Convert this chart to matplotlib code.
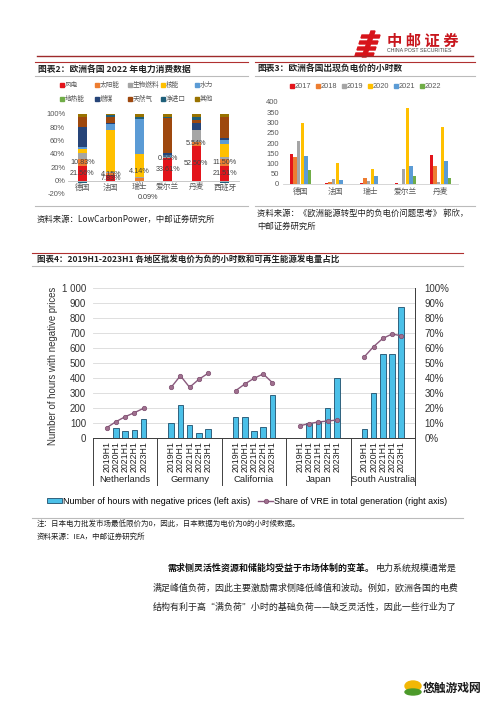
import numpy as np
import matplotlib
matplotlib.use('Agg')
import matplotlib.pyplot as plt
from matplotlib.patches import Rectangle, Polygon, Ellipse
from matplotlib.lines import Line2D

plt.rcParams['font.family'] = ['Liberation Sans', 'Noto Sans CJK SC']

W, H = 500, 707

# chart 2: 2022 electricity mix (%)
countries2 = ['德国', '法国', '瑞士', '爱尔兰', '丹麦', '西班牙']
sources2 = ['风电', '太阳能', '生物燃料', '核能', '水力', '地热能', '燃煤', '天然气', '净进口', '其他']
wind = [21.56, 7.83, 0.09, 33.61, 52.50, 21.51]
solar = [10.83, 4.15, 4.14, 0.55, 5.54, 11.50]
bio = [8.5, 1.5, 1.5, 2.0, 18.0, 2.0]
nuclear = [6.0, 62.0, 34.0, 0.0, 0.0, 20.0]
hydro = [3.5, 10.0, 53.0, 2.0, 0.1, 6.5]
geo = [0.0, 0.0, 0.0, 0.0, 0.0, 0.0]
coal = [30.0, 0.8, 0.0, 4.0, 11.0, 3.0]
gas = [15.5, 9.5, 0.5, 52.0, 4.0, 31.0]
netimp = [-3.0, 2.0, 2.0, 2.0, 5.0, -4.0]
other = [4.1, 2.2, 4.8, 3.84, 3.86, 4.49]

# chart 3: hours with negative prices
countries3 = ['德国', '法国', '瑞士', '爱尔兰', '丹麦']
years3 = ['2017', '2018', '2019', '2020', '2021', '2022']
h2017 = [146, 5, 5, 5, 143]
h2018 = [134, 9, 28, 0, 90]
h2019 = [211, 26, 14, 75, 12]
h2020 = [298, 102, 75, 372, 280]
h2021 = [139, 19, 38, 88, 112]
h2022 = [70, 0, 0, 40, 30]

# chart 4: IEA negative price hours and VRE share
regions4 = ['Netherlands', 'Germany', 'California', 'Japan', 'South Australia']
periods4 = ['2019H1', '2020H1', '2021H1', '2022H1', '2023H1']
hours_nl = [3, 67, 49, 55, 127]
hours_de = [98, 220, 87, 33, 62]
hours_ca = [142, 138, 49, 75, 289]
hours_jp = [0, 102, 109, 198, 397]
hours_sa = [58, 302, 560, 560, 872]
vre_nl = [6.9, 10.9, 14.2, 16.9, 19.8]
vre_de = [33.8, 41.5, 33.8, 39.1, 43.1]
vre_ca = [31.5, 36.0, 39.8, 42.7, 36.9]
vre_jp = [8.2, 9.6, 10.7, 11.3, 12.0]
vre_sa = [54.2, 60.9, 66.4, 69.3, 68.2]

COL2 = ['#E3141B', '#ED7D31', '#A5A5A5', '#FFC000', '#5B9BD5',
        '#70AD47', '#264478', '#9E480E', '#1F5F7A', '#997300']
COL3 = ['#E3141B', '#ED7D31', '#A5A5A5', '#FFC000', '#5B9BD5', '#70AD47']
GRAY = '#595959'
CJK = ['Noto Sans CJK SC']


def rect(l, t, r, b):
    return [l / W, 1 - b / H, (r - l) / W, (b - t) / H]


def fx(x):
    return x / W


def fy(y):
    return 1 - y / H


def hline(fig, y, x0, x1, color, lw):
    fig.add_artist(Line2D([fx(x0), fx(x1)], [fy(y), fy(y)], color=color, lw=lw,
                          transform=fig.transFigure))


def ptext(fig, x, y, s, **kw):
    return fig.text(fx(x), fy(y), s, **kw)


fig = plt.figure(figsize=(W / 100, H / 100), dpi=100)
fig.patch.set_facecolor('white')

# HEADER
for i, yy in enumerate([35, 41, 47, 53]):
    x0 = 362 - i * 2
    fig.add_artist(Polygon([(fx(x0), fy(yy)), (fx(x0 + 18), fy(yy)), (fx(x0 + 17), fy(yy + 3)),
                            (fx(x0 - 1), fy(yy + 3))], closed=True, color='#D7141A',
                           transform=fig.transFigure))
fig.add_artist(Polygon([(fx(371), fy(31)), (fx(375), fy(31)), (fx(366), fy(57)), (fx(362), fy(57))],
                       closed=True, color='#D7141A', transform=fig.transFigure))
ptext(fig, 387, 41, '中 邮 证 券', fontsize=11, fontweight='bold', color='#C8161D',
      va='center', ha='left', family=CJK)
ptext(fig, 387, 51, 'CHINA POST SECURITIES', fontsize=3.8, color='#444444', va='center', ha='left')
hline(fig, 56, 37, 473, '#9E2A2B', 1.0)

# SECTION LINES AND TITLES
hline(fig, 62, 35, 248, '#B03030', 0.8)
hline(fig, 62, 255, 475, '#B03030', 0.8)
hline(fig, 76, 35, 248, '#BBBBBB', 0.8)
hline(fig, 76, 255, 475, '#BBBBBB', 0.8)
hline(fig, 206, 35, 248, '#BBBBBB', 0.8)
hline(fig, 206, 255, 475, '#BBBBBB', 0.8)
ptext(fig, 38, 69, '图表2：欧洲各国 2022 年电力消费数据', fontsize=6.3, fontweight='bold',
      color='#222222', va='center', family=CJK)
ptext(fig, 257, 69, '图表3：欧洲各国出现负电价的小时数', fontsize=6.3, fontweight='bold',
      color='#222222', va='center', family=CJK)
ptext(fig, 37, 219, '资料来源：LowCarbonPower，中邮证券研究所', fontsize=6, color='#222222',
      va='center', family=CJK)
ptext(fig, 257, 213, '资料来源：《欧洲能源转型中的负电价问题思考》 郭欣，', fontsize=6,
      color='#222222', va='center', family=CJK)
ptext(fig, 257, 226, '中邮证券研究所', fontsize=6, color='#222222', va='center', family=CJK)

# CHART 2
ax2 = fig.add_axes(rect(68, 114, 239, 194))
for s in ['top', 'right', 'left']:
    ax2.spines[s].set_visible(False)
ax2.spines['bottom'].set_position(('data', 0))
ax2.spines['bottom'].set_color('#BFBFBF')
ax2.spines['bottom'].set_linewidth(0.6)
series2 = [wind, solar, bio, nuclear, hydro, geo, coal, gas, netimp, other]
x2 = np.arange(len(countries2))
pos_base = np.zeros(len(countries2))
neg_base = np.zeros(len(countries2))
for vals, col in zip(series2, COL2):
    v = np.array(vals, dtype=float)
    base = np.where(v >= 0, pos_base, neg_base)
    ax2.bar(x2, v, 0.33, bottom=base, color=col, linewidth=0)
    pos_base += np.where(v >= 0, v, 0)
    neg_base += np.where(v < 0, v, 0)
ax2.set_xlim(-0.5, len(countries2) - 0.5)
ax2.set_ylim(-20, 100)
ax2.set_yticks(np.arange(-20, 101, 20))
ax2.set_yticklabels(['%d%%' % t for t in range(-20, 101, 20)], fontsize=5.5, color=GRAY)
ax2.set_xticks(x2)
ax2.set_xticklabels(countries2, fontsize=5.6, color=GRAY, family=CJK)
ax2.tick_params(length=0, pad=2)
ax2.patch.set_alpha(0)
solar_nudge = [0, 0, 12, 0, 0, 0]
for i in range(len(countries2)):
    if i != 2:
        ax2.text(i, wind[i] / 2, '%.2f%%' % wind[i], ha='center', va='center', fontsize=5.2,
                 color='#404040')
    ax2.text(i, wind[i] + solar[i] / 2 + solar_nudge[i], '%.2f%%' % solar[i], ha='center',
             va='center', fontsize=5.2, color='#404040')
ax2.annotate('%.2f%%' % wind[2], xy=(2.0, -1), xytext=(2.3, -25), fontsize=5.2, color='#404040',
             ha='center', va='center', annotation_clip=False,
             arrowprops=dict(arrowstyle='-', color='#7F7F7F', lw=0.5, shrinkA=3, shrinkB=0))

leg_x = [62, 97, 130, 163, 197]
for k, (name, col) in enumerate(zip(sources2, COL2)):
    lx = leg_x[k % 5]
    ly = 85 if k < 5 else 99
    fig.add_artist(Rectangle((fx(lx - 2), fy(ly + 1.8)), 3.6 / W, 3.6 / H, color=col,
                             transform=fig.transFigure))
    ptext(fig, lx + 2.5, ly, name, fontsize=4.8, color=GRAY, va='center', ha='left', family=CJK)

# CHART 3
ax3 = fig.add_axes(rect(283, 102, 458, 184))
series3 = [h2017, h2018, h2019, h2020, h2021, h2022]
x3 = np.arange(len(countries3))
bw = 0.105
for j, (vals, col) in enumerate(zip(series3, COL3)):
    ax3.bar(x3 + (j - 2.5) * bw, vals, bw * 0.85, color=col, linewidth=0)
ax3.set_xlim(-0.5, len(countries3) - 0.5)
ax3.set_ylim(0, 400)
ax3.set_yticks(np.arange(0, 401, 50))
ax3.set_yticklabels([str(t) for t in range(0, 401, 50)], fontsize=5.5, color=GRAY)
ax3.set_xticks(x3)
ax3.set_xticklabels(countries3, fontsize=5.6, color=GRAY, family=CJK)
ax3.tick_params(length=0, pad=3)
for s in ['top', 'right', 'left']:
    ax3.spines[s].set_visible(False)
ax3.spines['bottom'].set_color('#D0D0D0')
ax3.spines['bottom'].set_linewidth(0.6)
ax3.patch.set_alpha(0)
leg3_x = [292, 318, 344, 370, 396, 422]
for lx, name, col in zip(leg3_x, years3, COL3):
    fig.add_artist(Rectangle((fx(lx - 2), fy(87.8)), 3.6 / W, 3.6 / H, color=col,
                             transform=fig.transFigure))
    ptext(fig, lx + 2.5, 86, name, fontsize=5.3, color=GRAY, va='center', ha='left')

# CHART 4 titles and lines
hline(fig, 253, 32, 463, '#B03030', 0.8)
hline(fig, 266, 32, 463, '#BBBBBB', 0.8)
ptext(fig, 37, 259.5, '图表4：2019H1-2023H1 各地区批发电价为负的小时数和可再生能源发电量占比',
      fontsize=6.1, fontweight='bold', color='#222222', va='center', family=CJK)

ax4 = fig.add_axes(rect(93, 288, 415, 438))
hours4 = [hours_nl, hours_de, hours_ca, hours_jp, hours_sa]
vre4 = [vre_nl, vre_de, vre_ca, vre_jp, vre_sa]
slots = 7
ax4r = ax4.twinx()
tick_pos = []
tick_lab = []
for g, (hrs, vre) in enumerate(zip(hours4, vre4)):
    xs = g * slots + 1 + np.arange(len(periods4))
    ax4.bar(xs, hrs, 0.6, color='#4BC0E8', edgecolor='#1D4E6B', linewidth=0.6, zorder=3)
    ax4r.plot(xs, np.array(vre) / 100, color='#8A5A7E', lw=1.0, marker='o', markersize=3.2,
              markerfacecolor='#A0708F', markeredgecolor='#7A4A6C', markeredgewidth=0.5, zorder=4)
    tick_pos.extend(xs)
    tick_lab.extend(periods4)
    ax4.text(g * slots + 3, -0.28, regions4[g], transform=ax4.get_xaxis_transform(),
             ha='center', va='center', fontsize=6.8, color='#222222')
for b in range(len(regions4) + 1):
    ax4.plot([b * slots - 0.5, b * slots - 0.5], [0, -0.31], color='#404040', lw=0.7,
             transform=ax4.get_xaxis_transform(), clip_on=False)
ax4.set_xlim(-0.5, len(regions4) * slots - 0.5)
ax4.set_ylim(0, 1000)
ax4.set_yticks(np.arange(0, 1001, 100))
ax4.set_yticklabels([str(t) if t < 1000 else '1 000' for t in range(0, 1001, 100)],
                    fontsize=7, color='#333333')
ax4.set_xticks(tick_pos)
ax4.set_xticklabels(tick_lab, rotation=90, fontsize=6.3, color='#222222')
ax4.tick_params(axis='x', length=0, pad=2)
ax4.tick_params(axis='y', length=0, pad=5)
ax4.grid(axis='y', color='#D9D9D9', lw=0.6, zorder=0)
ax4.set_axisbelow(True)
ax4.set_ylabel('Number of hours with negative prices', fontsize=6.9, color='#333333')
ax4.yaxis.set_label_coords(-0.11, 0.48)
ax4r.set_ylim(0, 1)
ax4r.set_yticks(np.arange(0, 1.01, 0.1))
ax4r.set_yticklabels(['%d%%' % t for t in range(0, 101, 10)], fontsize=7, color='#333333')
ax4r.tick_params(axis='y', length=0, pad=7)
for a in [ax4, ax4r]:
    a.spines['top'].set_visible(False)
    a.spines['left'].set_visible(False)
    a.spines['right'].set_color('#404040')
    a.spines['right'].set_linewidth(0.7)
    a.spines['bottom'].set_color('#404040')
    a.spines['bottom'].set_linewidth(0.7)

h_bar = Rectangle((0, 0), 1, 1, facecolor='#4BC0E8', edgecolor='#1D4E6B', linewidth=0.6)
h_line = Line2D([0], [0], color='#8A5A7E', lw=1.0, marker='o', markersize=3.2,
                markerfacecolor='#A0708F', markeredgecolor='#7A4A6C', markeredgewidth=0.5)
fig.legend([h_bar, h_line],
           ['Number of hours with negative prices (left axis)',
            'Share of VRE in total generation (right axis)'],
           loc='center', bbox_to_anchor=(fx(247), fy(501)), ncol=2, frameon=False,
           fontsize=6.4, handlelength=1.7, handleheight=0.6, columnspacing=0.9, handletextpad=0.1)

hline(fig, 518, 32, 463, '#BBBBBB', 0.8)
ptext(fig, 37, 524, '注：日本电力批发市场最低限价为0，因此，日本数据为电价为0的小时候数据。',
      fontsize=5.4, color='#222222', va='center', family=CJK)
ptext(fig, 37, 537, '资料来源：IEA，中邮证券研究所', fontsize=5.4, color='#222222', va='center',
      family=CJK)

# BODY TEXT
ptext(fig, 167, 568, '需求侧灵活性资源和储能均受益于市场体制的变革。', fontsize=6.45,
      fontweight='bold', color='#111111', va='center', family=CJK)
ptext(fig, 457, 568, '电力系统规模通常是', fontsize=6.45, color='#222222', va='center',
      ha='right', family=CJK)
ptext(fig, 153, 588, '满足峰值负荷，因此主要激励需求侧降低峰值和波动。例如，欧洲各国的电费',
      fontsize=6.45, color='#222222', va='center', family=CJK)
ptext(fig, 153, 607, '结构有利于高“满负荷”小时的基础负荷——缺乏灵活性，因此一些行业为了',
      fontsize=6.45, color='#222222', va='center', family=CJK)

# WATERMARK
fig.add_artist(Ellipse((fx(413), fy(686)), 16 / W, 10 / H, color='#F2B705', transform=fig.transFigure))
fig.add_artist(Ellipse((fx(413), fy(692)), 16 / W, 6 / H, color='#4C9A2A', transform=fig.transFigure))
ptext(fig, 423, 688, '悠触游戏网', fontsize=8.5, fontweight='bold', color='#1A1A1A', va='center',
      family=CJK)

fig.savefig('out.png', dpi=100)
